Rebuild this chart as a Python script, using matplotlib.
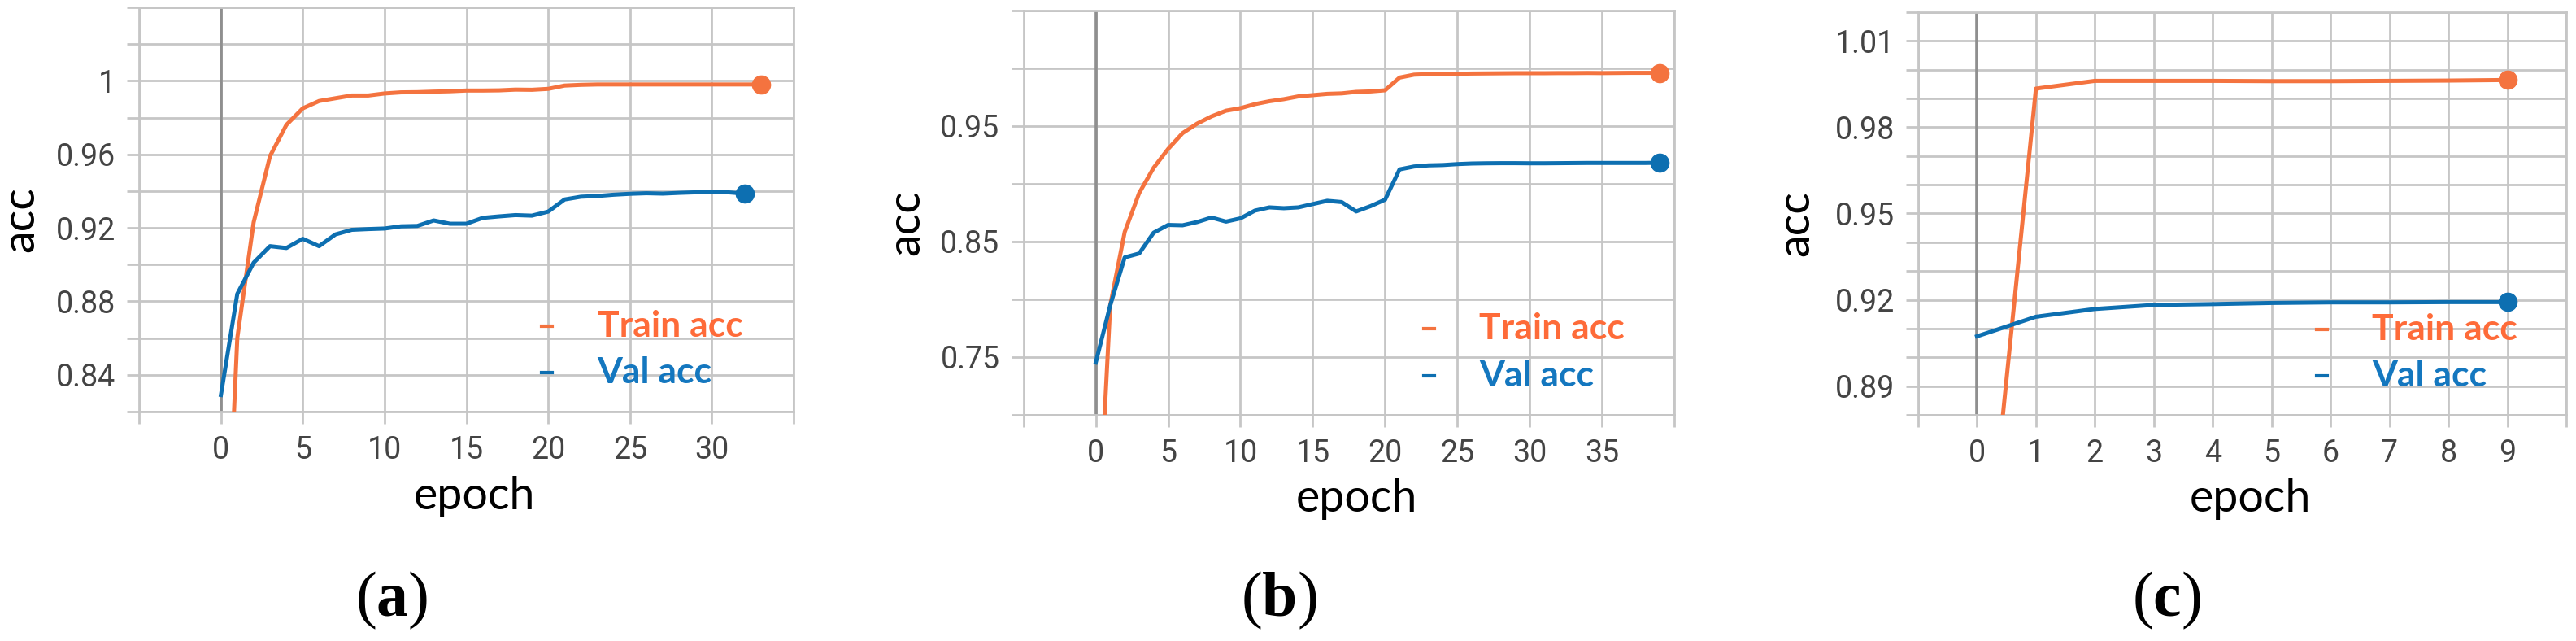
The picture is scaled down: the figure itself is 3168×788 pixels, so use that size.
import matplotlib
matplotlib.use('Agg')
import matplotlib.pyplot as plt

# panel (a)
a_train = [0.66, 0.860, 0.923, 0.959, 0.976, 0.985, 0.989, 0.9905, 0.992, 0.992,
           0.9931, 0.9937, 0.9938, 0.9941, 0.9943, 0.9947, 0.9947, 0.9948, 0.9952, 0.9951,
           0.9956, 0.9974, 0.9978, 0.998, 0.998, 0.998, 0.998, 0.998, 0.998, 0.998,
           0.998, 0.998, 0.998, 0.998]
a_val = [0.829, 0.884, 0.901, 0.910, 0.909, 0.914, 0.910, 0.9164, 0.9189, 0.9193,
         0.9196, 0.9208, 0.921, 0.924, 0.9222, 0.9222, 0.9254, 0.9262, 0.9269, 0.9266,
         0.9288, 0.9354, 0.9369, 0.9373, 0.938, 0.9385, 0.9388, 0.9386, 0.939, 0.9393,
         0.9395, 0.9393, 0.9386]

# panel (b)
b_train = [0.552, 0.7945, 0.858, 0.8917, 0.9136, 0.9299, 0.9436, 0.9518, 0.9581, 0.963,
           0.9652, 0.9687, 0.9712, 0.973, 0.9754, 0.9765, 0.9776, 0.978, 0.9793, 0.9797,
           0.9807, 0.9917, 0.9942, 0.9947, 0.9949, 0.995, 0.9952, 0.9953, 0.9954, 0.9955,
           0.9955, 0.9955, 0.9956, 0.9956, 0.9957, 0.9956, 0.9957, 0.9958, 0.9958, 0.9958]
b_val = [0.745, 0.7945, 0.836, 0.8394, 0.8574, 0.8641, 0.8638, 0.8666, 0.8705, 0.867,
         0.8698, 0.8765, 0.8793, 0.8786, 0.8793, 0.8822, 0.885, 0.8839, 0.8758, 0.8804,
         0.886, 0.9122, 0.9147, 0.9157, 0.916, 0.9168, 0.9173, 0.9175, 0.9176, 0.9176,
         0.9175, 0.9175, 0.9176, 0.9177, 0.9178, 0.9178, 0.9178, 0.9178, 0.9178, 0.918]

# panel (c)
c_train = [0.791, 0.9934, 0.9961, 0.9961, 0.9961, 0.996, 0.996, 0.9961, 0.9962, 0.9964]
c_val = [0.9073, 0.9141, 0.9168, 0.9182, 0.9185, 0.9189, 0.9191, 0.9191, 0.9192, 0.9192]

a_yticks = [0.82, 0.84, 0.86, 0.88, 0.90, 0.92, 0.94, 0.96, 0.98, 1.00, 1.02, 1.04]
a_ylabels = ['', '0.84', '', '0.88', '', '0.92', '', '0.96', '', '1', '', '']
b_yticks = [0.70, 0.75, 0.80, 0.85, 0.90, 0.95, 1.00, 1.05]
b_ylabels = ['', '0.75', '', '0.85', '', '0.95', '', '']
c_yticks = [0.88, 0.89, 0.90, 0.91, 0.92, 0.93, 0.94, 0.95, 0.96, 0.97, 0.98, 0.99, 1.00, 1.01, 1.02]
c_ylabels = ['', '0.89', '', '', '0.92', '', '', '0.95', '', '', '0.98', '', '', '1.01', '']

a_xticks = [-5, 0, 5, 10, 15, 20, 25, 30, 35]
a_xlabels = ['', '0', '5', '10', '15', '20', '25', '30', '']
b_xticks = [-5, 0, 5, 10, 15, 20, 25, 30, 35, 40]
b_xlabels = ['', '0', '5', '10', '15', '20', '25', '30', '35', '']
c_xticks = [-1, 0, 1, 2, 3, 4, 5, 6, 7, 8, 9, 10]
c_xlabels = ['', '0', '1', '2', '3', '4', '5', '6', '7', '8', '9', '']

panels = [
    ('a', a_train, a_val, a_xticks, a_xlabels, a_yticks, a_ylabels, [0.054, 0.358, 0.2541, 0.6306]),
    ('b', b_train, b_val, b_xticks, b_xlabels, b_yticks, b_ylabels, [0.3973, 0.3534, 0.2527, 0.6306]),
    ('c', c_train, c_val, c_xticks, c_xlabels, c_yticks, c_ylabels, [0.7446, 0.3528, 0.2516, 0.6283]),
]
letter_x = [0.152, 0.4965, 0.841]
ylabel_x = [-0.181, -0.180, -0.188]

ORANGE = '#f4733f'
BLUE = '#0d6fb1'
GRID = '#c6c6c6'

plt.rcParams['mathtext.fontset'] = 'custom'
plt.rcParams['mathtext.rm'] = 'Liberation Serif'
plt.rcParams['mathtext.bf'] = 'Liberation Serif:bold'

tick_font = ['Liberation Sans Narrow', 'Roboto', 'DejaVu Sans']
label_font = ['Lato', 'DejaVu Sans']

fig = plt.figure(figsize=(31.68, 7.88), dpi=100)

for i, (name, train, val, xt, xl, yt, yl, rect) in enumerate(panels):
    ax = fig.add_axes(rect)
    ax.set_xlim(xt[0], xt[-1])
    ax.set_ylim(yt[0], yt[-1])
    ax.set_xticks(xt)
    ax.set_xticklabels(xl, fontfamily=tick_font, fontsize=27, color='#444444')
    ax.set_yticks(yt)
    ax.set_yticklabels(yl, fontfamily=tick_font, fontsize=27, color='#444444')
    ax.tick_params(axis='both', length=11, width=2, color=GRID, pad=10)
    ax.grid(True, color=GRID, lw=2, zorder=0)
    ax.set_axisbelow(True)
    for s in ax.spines.values():
        s.set_color(GRID)
        s.set_linewidth(2)
    ax.axvline(0, color='#8f8f8f', lw=2.6, zorder=1)

    ax.plot(range(len(train)), train, color=ORANGE, lw=3.6, zorder=3)
    ax.plot(range(len(val)), val, color=BLUE, lw=3.6, zorder=3)
    ax.plot(len(train) - 1, train[-1], 'o', color=ORANGE, ms=16, zorder=4, clip_on=False)
    ax.plot(len(val) - 1, val[-1], 'o', color=BLUE, ms=16, zorder=4, clip_on=False)

    # legend drawn by hand: short dash + bold coloured text
    for yy, txt, lc, tc in [(0.212, 'Train acc', ORANGE, '#fe6b39'), (0.096, 'Val acc', BLUE, '#1477bf')]:
        ax.plot([0.615, 0.631], [yy, yy], color=lc, lw=3, transform=ax.transAxes, zorder=5)
        ax.text(0.70, yy, txt, transform=ax.transAxes, color=tc, fontsize=32,
                fontweight='bold', fontfamily=label_font, va='center', ha='left', zorder=5)

    ax.set_ylabel('acc', fontsize=40, fontfamily=label_font, color='black', va='center')
    ax.yaxis.set_label_coords(ylabel_x[i], 0.475)
    ax.set_xlabel('epoch', fontsize=40, fontfamily=label_font, color='black', va='center')
    ax.xaxis.set_label_coords(0.512, -0.21)

    fig.text(letter_x[i], 0.064, r'$(\mathbf{' + name + '})$', fontsize=56,
             ha='center', va='center', color='black')

fig.savefig('out.png', dpi=100)
